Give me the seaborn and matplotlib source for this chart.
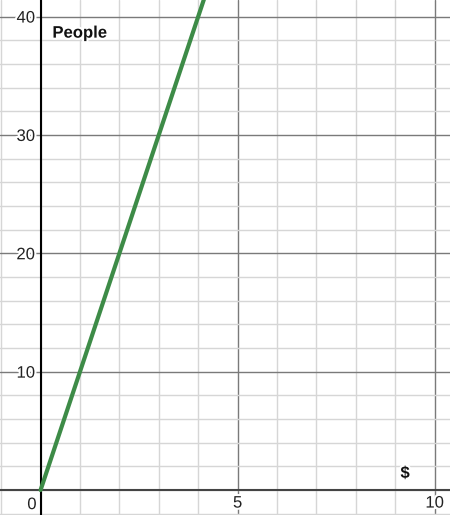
import numpy as np
import pandas as pd
import matplotlib.pyplot as plt
import matplotlib.patheffects as pe
from matplotlib.ticker import MultipleLocator
import seaborn as sns

# line data: people per dollar
dollars = [0, 1, 2, 3, 4, 5]
people = [0, 10, 20, 30, 40, 50]

x_ticks = [5, 10]
y_ticks = [10, 20, 30, 40]

sns.set_style('white')
plt.rcParams['font.family'] = ['Liberation Sans', 'DejaVu Sans']

df = pd.DataFrame({'Dollars': dollars, 'People': people})

fig = plt.figure(figsize=(4.5, 5.15), dpi=100)
ax = fig.add_axes([0, 0, 1, 1])

ax.set_xlim(-1.03, 10.39)
ax.set_ylim(-2.11, 41.4)

# grid
ax.xaxis.set_major_locator(MultipleLocator(5))
ax.xaxis.set_minor_locator(MultipleLocator(1))
ax.yaxis.set_major_locator(MultipleLocator(10))
ax.yaxis.set_minor_locator(MultipleLocator(2))
ax.grid(which='major', color='#7a7a7a', linewidth=1.0, zorder=0)
ax.grid(which='minor', color='#d6d6d6', linewidth=1.0, zorder=0)
ax.set_axisbelow(True)

# axes through origin
for side in ['top', 'right']:
    ax.spines[side].set_visible(False)
ax.spines['left'].set_position(('data', 0))
ax.spines['bottom'].set_position(('data', 0))
ax.spines['left'].set_color('black')
ax.spines['bottom'].set_color('#444444')
ax.spines['left'].set_linewidth(1.5)
ax.spines['bottom'].set_linewidth(1.5)

ax.set_xticks(x_ticks)
ax.set_yticks(y_ticks)
ax.tick_params(axis='both', which='both', length=0, labelsize=12, colors='#222222')
ax.tick_params(axis='x', pad=4)
ax.tick_params(axis='y', pad=4)

halo = [pe.withStroke(linewidth=3, foreground='white')]
for lab in ax.get_xticklabels() + ax.get_yticklabels():
    lab.set_path_effects(halo)

sns.lineplot(data=df, x='Dollars', y='People', ax=ax, color='#3d8b47',
             linewidth=3, zorder=5, clip_on=True)
ax.set_xlabel('')
ax.set_ylabel('')

ax.text(-0.22, -0.6, '0', ha='center', va='top', fontsize=12, color='#222222',
        path_effects=halo)
ax.text(0.3, 38.6, 'People', ha='left', va='center', fontsize=12,
        fontweight='bold', color='#111111', path_effects=halo)
ax.text(9.25, 1.4, '$', ha='center', va='center', fontsize=12,
        fontweight='bold', color='#111111', path_effects=halo)

fig.savefig('out.png', dpi=100)
